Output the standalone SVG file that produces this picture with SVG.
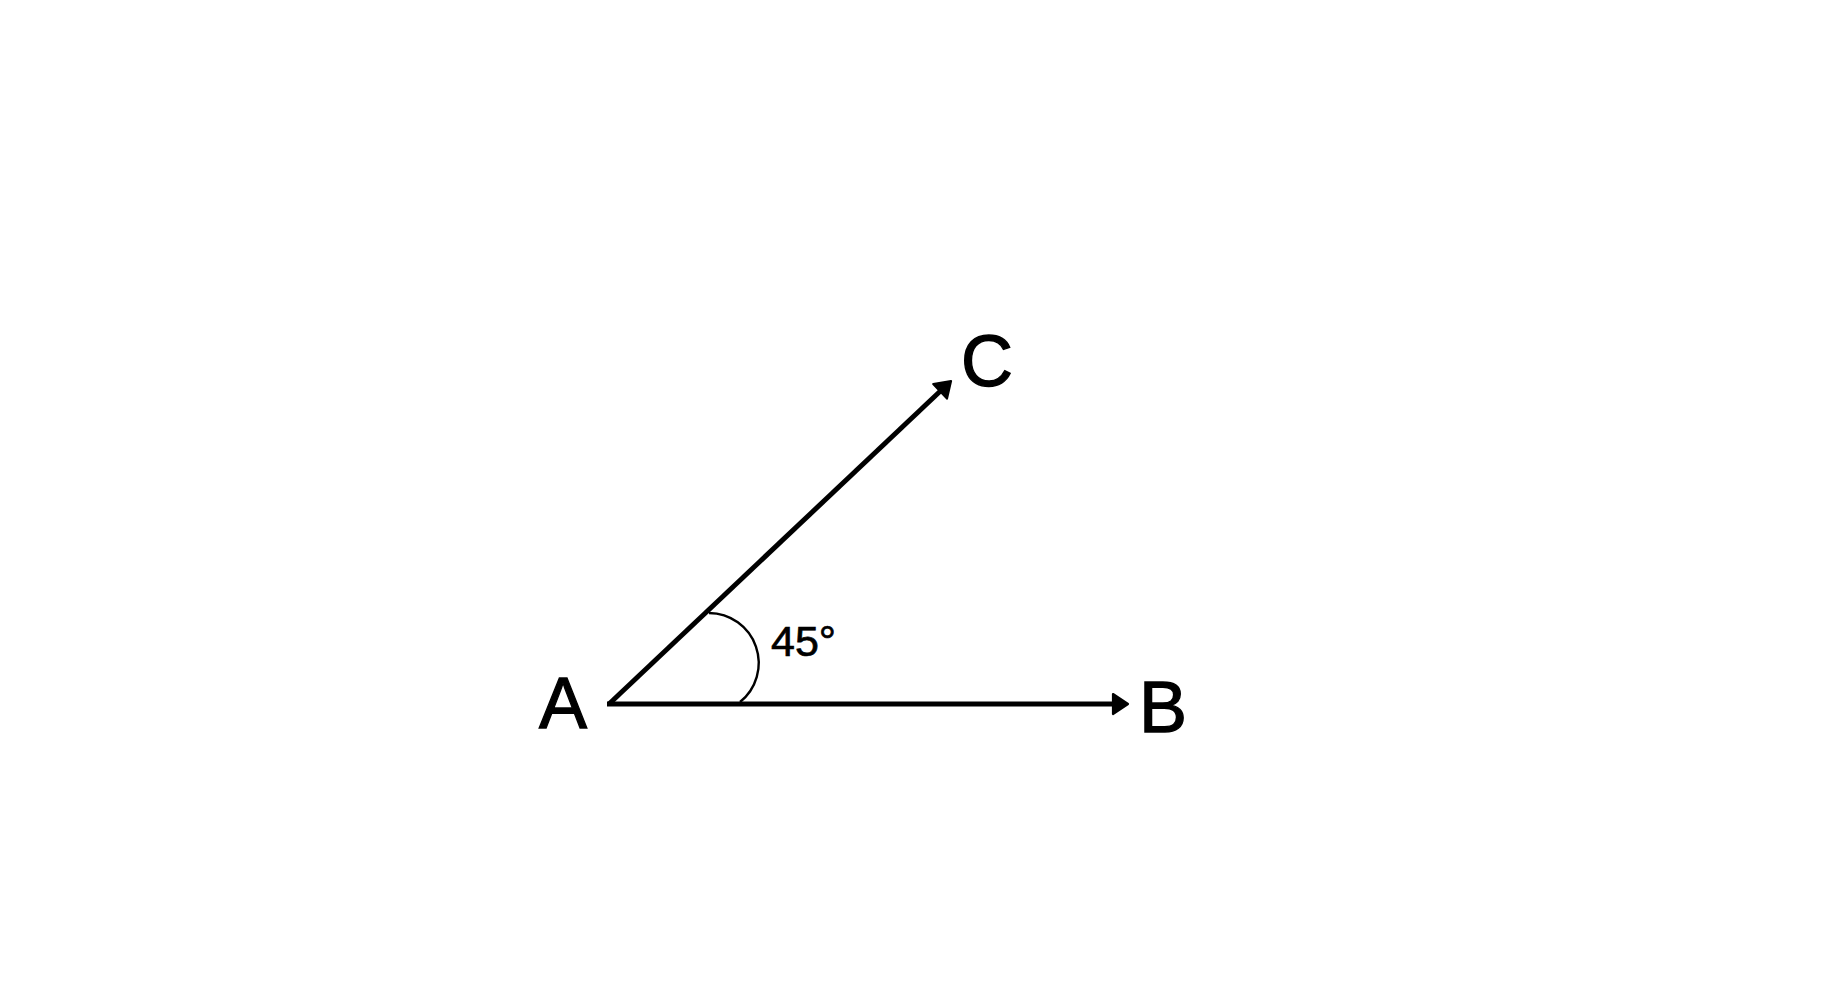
<svg xmlns="http://www.w3.org/2000/svg" width="1835" height="1006" viewBox="0 0 1835 1006">
  <style>
    .ray { stroke: #000; stroke-width: 5; fill: none; stroke-linecap: butt; }
    .arc { stroke: #000; stroke-width: 2.4; fill: none; }
    .lbl { font-family: "Liberation Sans", Arial, sans-serif; fill: #000; stroke: #000; }
    .big { font-size: 72px; stroke-width: 1.3; }
    .small { font-size: 43px; stroke-width: 0.7; }
  </style>
  <defs>
    <marker id="arrow" markerUnits="userSpaceOnUse" markerWidth="30" markerHeight="30" viewBox="-15 -15 30 30" refX="0" refY="0" orient="auto" overflow="visible">
      <path d="M-7,-10 L8,0 L-7,10 Z" fill="#000" stroke="#000" stroke-width="2.2" stroke-linejoin="round"/>
    </marker>
  </defs>
  <rect width="1835" height="1006" fill="#fff"/>
  <g id="connectors">
    <line class="ray" x1="607" y1="704" x2="1120" y2="704" marker-end="url(#arrow)"/>
    <line class="ray" x1="609" y1="704" x2="945.2" y2="386.5" marker-end="url(#arrow)"/>
    <path class="arc" d="M709,613 A50 50 0 0 1 740,702"/>
  </g>
  <g id="A"><text class="lbl big" x="539" y="728">A</text></g>
  <g id="B"><text class="lbl big" x="1139" y="732">B</text></g>
  <g id="C"><text class="lbl big" x="961" y="386">C</text></g>
  <g id="angle"><text class="lbl small" x="771" y="656">45°</text></g>
</svg>
